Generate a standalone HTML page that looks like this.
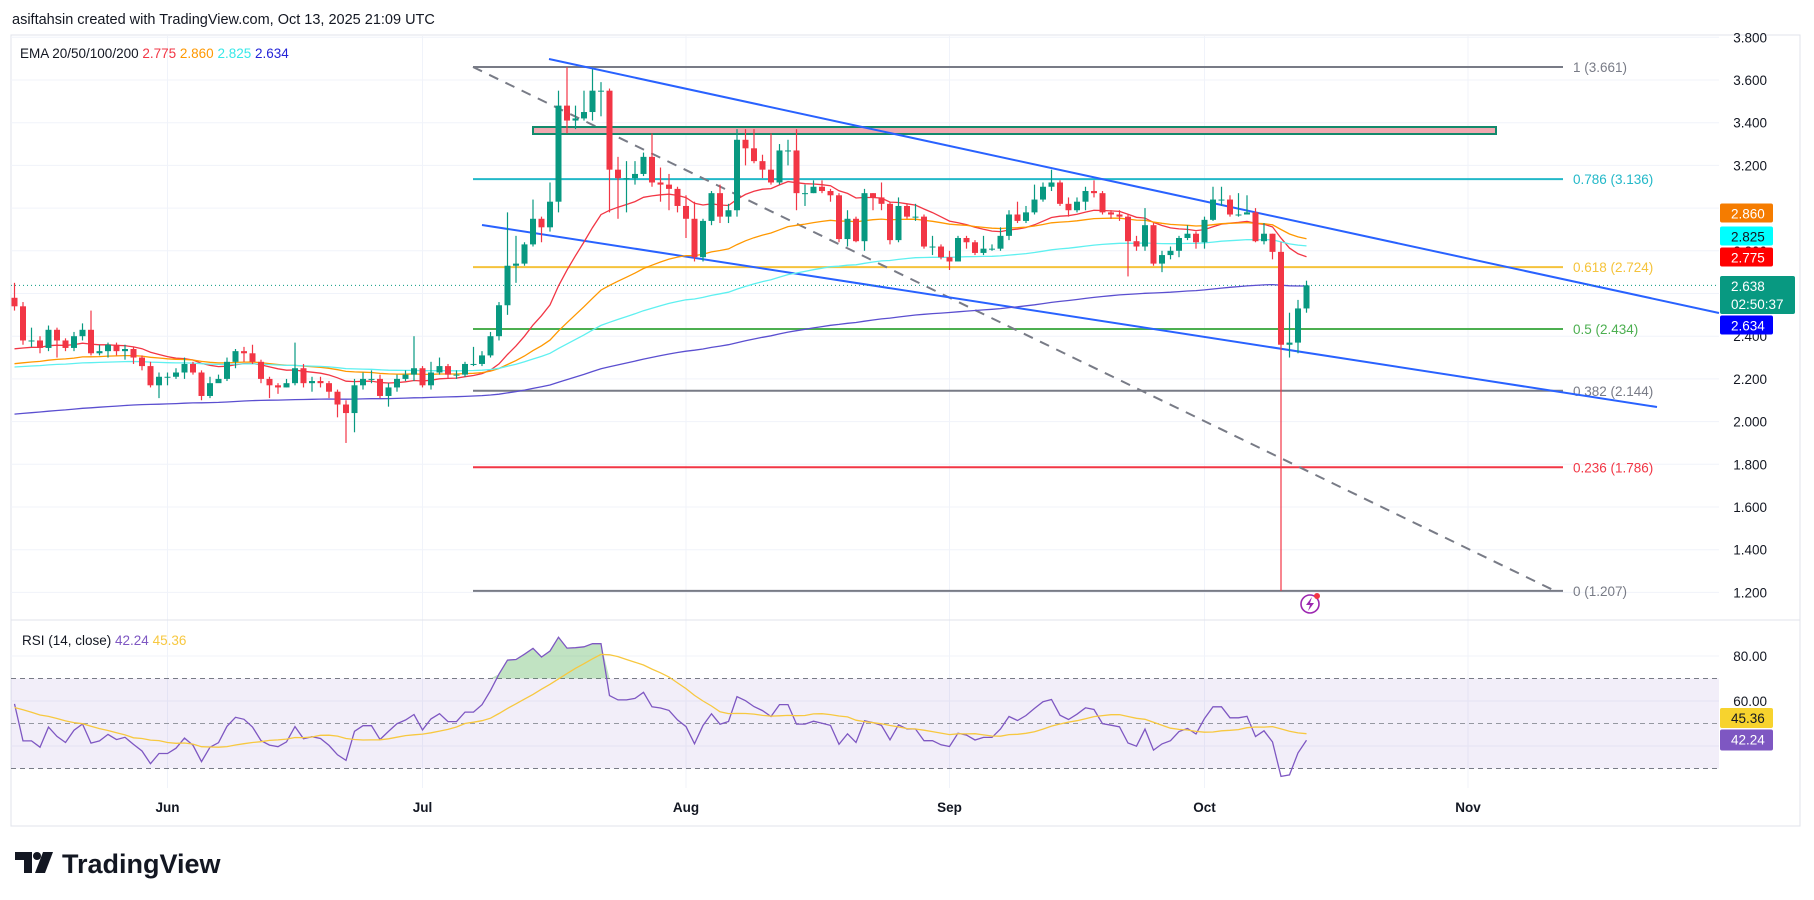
<!DOCTYPE html>
<html><head><meta charset="utf-8">
<style>
html,body{margin:0;padding:0;background:#fff;}
svg{display:block;font-family:"Liberation Sans",sans-serif;}
</style></head>
<body>
<svg id="chart" width="1814" height="900" viewBox="0 0 1814 900" xmlns="http://www.w3.org/2000/svg">
  <text x="12" y="24" font-size="14.5" fill="#131722">asiftahsin created with TradingView.com, Oct 13, 2025 21:09 UTC</text>
  <rect x="11" y="35" width="1789" height="791" fill="none" stroke="#e0e3eb"/>
  <g id="grid"></g>
  <g id="rsiPane"></g>
  <g id="drawings"></g>
  <g id="emaLines"></g>
  <g id="candles"></g>
  <g id="axes"></g>
  <line x1="11" y1="620" x2="1800" y2="620" stroke="#e0e3eb"/>
  <text x="20" y="58" font-size="13.5"><tspan fill="#131722">EMA 20/50/100/200 </tspan><tspan fill="#f23645">2.775 </tspan><tspan fill="#ff9800">2.860 </tspan><tspan fill="#38e8e8">2.825 </tspan><tspan fill="#2424d8">2.634</tspan></text>
  <text x="22" y="645" font-size="13.5"><tspan fill="#131722">RSI (14, close) </tspan><tspan fill="#7e57c2">42.24 </tspan><tspan fill="#f7c840">45.36</tspan></text>
  <g>
    <circle cx="1310" cy="604" r="9" fill="#fff" stroke="#9c27b0" stroke-width="1.6"/>
    <path d="M1312 597 L1306 605 L1310 605 L1308 611 L1314 603 L1310 603 Z" fill="#9c27b0"/>
    <circle cx="1317" cy="596" r="3" fill="#f23645"/>
  </g>
  <g>
    <path d="M15 852 H32 V873 H24 V860 H15 Z" fill="#131722"/>
    <circle cx="37" cy="856" r="4" fill="#131722"/>
    <path d="M43 852 H53 L45 873 H35 Z" fill="#131722"/>
    <text x="62" y="873" font-size="27" font-weight="bold" fill="#131722">TradingView</text>
  </g>
</svg>
<script>
// ---- data ----
const firstOpen = 2.58;
const closes = [2.54,2.38,2.38,2.345,2.43,2.38,2.345,2.40,2.43,2.32,2.33,2.36,2.33,2.34,2.30,2.26,2.17,2.21,2.21,2.23,
2.27,2.23,2.12,2.18,2.20,2.28,2.33,2.32,2.28,2.20,2.17,2.16,2.18,2.25,2.18,2.19,2.18,2.14,2.08,2.04,
2.17,2.20,2.20,2.12,2.16,2.20,2.22,2.25,2.17,2.23,2.26,2.22,2.22,2.27,2.27,2.31,2.40,2.545,2.73,2.74,
2.83,2.95,2.91,3.03,3.48,3.41,3.42,3.45,3.55,3.55,3.18,3.14,3.14,3.16,3.24,3.12,3.11,3.09,3.01,2.95,
2.77,2.94,3.07,2.96,2.99,3.32,3.28,3.22,3.18,3.12,3.27,3.27,3.07,3.07,3.10,3.08,3.06,2.855,2.95,2.845,
3.07,3.05,3.02,2.85,3.01,2.96,2.96,2.82,2.82,2.77,2.75,2.86,2.84,2.79,2.81,2.81,2.87,2.97,2.94,2.98,
3.04,3.10,3.12,3.02,2.99,3.03,3.08,3.07,2.98,2.97,2.96,2.845,2.82,2.92,2.74,2.78,2.80,2.86,2.88,2.84,
2.945,3.04,3.04,2.97,2.97,2.98,2.845,2.88,2.795,2.36,2.37,2.53,2.638];
const highs = [2.65,2.56,2.44,2.40,2.45,2.44,2.39,2.42,2.46,2.52,2.36,2.37,2.37,2.36,2.35,2.31,2.28,2.23,2.23,2.25,
2.30,2.28,2.24,2.21,2.22,2.30,2.34,2.35,2.36,2.29,2.21,2.18,2.20,2.37,2.27,2.21,2.21,2.19,2.15,2.10,
2.20,2.23,2.24,2.22,2.18,2.22,2.24,2.40,2.26,2.28,2.30,2.27,2.24,2.28,2.35,2.33,2.42,2.56,2.98,2.87,
2.84,3.04,2.96,3.12,3.55,3.66,3.48,3.55,3.65,3.59,3.56,3.24,3.22,3.22,3.26,3.35,3.19,3.16,3.10,3.06,
3.03,2.95,3.08,3.11,3.02,3.37,3.37,3.37,3.25,3.35,3.30,3.32,3.37,3.11,3.13,3.13,3.09,3.07,2.99,2.96,
3.09,3.07,3.12,3.03,3.05,3.02,3.02,2.97,2.87,2.83,2.80,2.87,2.87,2.85,2.87,2.83,2.91,2.99,3.03,3.01,
3.11,3.12,3.18,3.13,3.05,3.05,3.10,3.13,3.08,2.99,2.99,2.97,2.87,3.00,2.93,2.80,2.82,2.87,2.92,2.89,
2.96,3.10,3.10,3.06,3.07,3.06,3.00,2.93,2.88,2.84,2.51,2.57,2.66];
const lows = [2.52,2.36,2.35,2.32,2.33,2.30,2.33,2.33,2.38,2.31,2.31,2.30,2.31,2.29,2.27,2.24,2.16,2.11,2.17,2.20,
2.20,2.22,2.10,2.11,2.19,2.19,2.25,2.28,2.27,2.18,2.11,2.13,2.16,2.17,2.16,2.14,2.16,2.11,2.02,1.90,
1.95,2.15,2.18,2.11,2.07,2.14,2.19,2.19,2.16,2.15,2.22,2.20,2.20,2.21,2.26,2.26,2.30,2.38,2.50,2.65,
2.73,2.82,2.84,2.89,2.98,3.35,3.37,3.41,3.41,3.43,2.98,2.95,2.98,3.11,3.15,3.10,3.03,2.99,2.98,2.86,
2.75,2.75,2.92,2.93,2.93,2.96,3.20,3.21,3.14,3.11,3.11,3.20,2.99,3.01,3.07,3.07,3.03,2.84,2.82,2.84,
2.80,2.99,2.99,2.83,2.84,2.95,2.94,2.81,2.78,2.76,2.71,2.75,2.81,2.78,2.78,2.80,2.80,2.85,2.93,2.93,
2.97,3.03,3.08,3.01,2.96,2.98,2.99,3.05,2.97,2.95,2.94,2.68,2.80,2.80,2.73,2.70,2.76,2.77,2.85,2.81,
2.81,2.94,3.01,2.96,2.96,2.97,2.84,2.83,2.76,1.207,2.30,2.32,2.51];
const emaPeriods = [20, 50, 100, 200];
const emaSeeds = [2.32, 2.26, 2.25, 2.03];
const emaColors = ['#f23645','#ff9800','#5ff0f0','#5b4fd0'];
const fibLevels = [1, 0.786, 0.618, 0.5, 0.382, 0.236, 0];
const fibHigh = 3.661, fibLow = 1.207;
const fibColors = ['#787b86','#22b8c8','#f5c33b','#4caf50','#787b86','#f23645','#787b86'];
const priceTicks = ['3.800','3.600','3.400','3.200','3.000','2.800','2.600','2.400','2.200','2.000','1.800','1.600','1.400','1.200'];
const rsiTicks = ['80.00','60.00','40.00'];
const monthLabels = ['Jun','Jul','Aug','Sep','Oct','Nov'];
const monthIndex = [18, 48, 79, 110, 140, 171];
const rsiSeedGain = 0.02, rsiSeedLoss = 0.011, rsiMaSeed = 57;

// ---- scales ----
const NS='http://www.w3.org/2000/svg';
const X0=14.5, STEP=8.5, PLOT_R=1719;
function xs(i){return X0+i*STEP;}
function ys(p){return 80+(3.6-p)*213.5;}
function yr(v){return 656+(80-v)*2.25;}
function mk(tag,attrs,parent){const e=document.createElementNS(NS,tag);for(const k in attrs)e.setAttribute(k,attrs[k]);parent.appendChild(e);return e;}
const grid=document.getElementById('grid'), axes=document.getElementById('axes');
const rsiG=document.getElementById('rsiPane'), dr=document.getElementById('drawings');
const emaG=document.getElementById('emaLines'), cG=document.getElementById('candles');

// grid + axes
priceTicks.forEach(t=>{
  const y=ys(parseFloat(t));
  const l=mk('line',{x1:11,x2:PLOT_R,y1:y,y2:y,stroke:'#f0f3fa'},grid);
  
  
  const tx=mk('text',{x:1767,y:y+5,'font-size':13.5,'text-anchor':'end',fill:'#131722'},axes);
  tx.textContent=t;
  
  
});
rsiTicks.forEach(t=>{
  const y=yr(parseFloat(t));
  const l=mk('line',{x1:11,x2:PLOT_R,y1:y,y2:y,stroke:'#f0f3fa'},grid);
  
  
  if(t!=='40.00'){
    const tx=mk('text',{x:1767,y:y+5,'font-size':13.5,'text-anchor':'end',fill:'#131722'},axes);
    tx.textContent=t;
    
    
  }
});
monthLabels.forEach((m,k)=>{
  const x=xs(monthIndex[k]);
  const l=mk('line',{x1:x,x2:x,y1:36,y2:788,stroke:'#f0f3fa'},grid);
  
  
  const tx=mk('text',{x:x,y:812,'font-size':13.5,'text-anchor':'middle',fill:'#131722','font-weight':'bold'},axes);
  tx.textContent=m;
  
  
});

// opens
const opens=closes.map((c,i)=>i===0?firstOpen:closes[i-1]);

// fib
fibLevels.forEach((lv,k)=>{
  const p=fibLow+(fibHigh-fibLow)*lv;
  const y=ys(p);
  const l=mk('line',{x1:473,x2:1563,y1:y,y2:y,stroke:fibColors[k],'stroke-width':2},dr);
  
  
  const tx=mk('text',{x:1573,y:y+5,'font-size':13.5,fill:fibColors[k]},dr);
  tx.textContent=lv+' ('+p.toFixed(3)+')';
  
  
});
const fd=mk('line',{x1:473,y1:ys(fibHigh),x2:1555,y2:ys(fibLow),stroke:'#787b86','stroke-width':2,'stroke-dasharray':'10 8'},dr);


// resistance box
const rb=mk('rect',{x:533,y:127,width:963,height:7,fill:'#f0a8b0',stroke:'#128a6c','stroke-width':2},dr);


// channel
const ch1=mk('line',{x1:549,y1:59,x2:1719,y2:313,stroke:'#2962ff','stroke-width':2},dr);


const ch2=mk('line',{x1:482,y1:225,x2:1657,y2:407,stroke:'#2962ff','stroke-width':2},dr);


// current price line
const last=closes[closes.length-1];
const cp=mk('line',{x1:11,x2:PLOT_R,y1:ys(last),y2:ys(last),stroke:'#089981','stroke-dasharray':'1 3'},dr);



// EMAs
const emaFinal=[];
emaPeriods.forEach((n,k)=>{
  const a=2/(n+1);let e=emaSeeds[k];const pts=[];
  closes.forEach((c,i)=>{e=e+a*(c-e);pts.push(xs(i).toFixed(1)+','+ys(e).toFixed(1));});
  emaFinal.push(e);
  const pl=mk('polyline',{points:pts.join(' '),fill:'none',stroke:emaColors[k],'stroke-width':1.3},emaG);
  
  
});

// candles
closes.forEach((c,i)=>{
  const o=opens[i],up=c>=o,col=up?'#089981':'#f23645',x=xs(i);
  const g=mk('g',{},cG);
  
  
  mk('line',{x1:x,x2:x,y1:ys(highs[i]),y2:ys(lows[i]),stroke:col,'stroke-width':1.2},g);
  const t=ys(Math.max(o,c)),b=ys(Math.min(o,c));
  mk('rect',{x:x-3,y:t,width:6,height:Math.max(1,b-t),fill:col},g);
});

// RSI
const rsi=[];let ag=rsiSeedGain,al=rsiSeedLoss;
closes.forEach((c,i)=>{
  const d=c-opens[i];const gn=Math.max(d,0),ls=Math.max(-d,0);
  ag=(ag*13+gn)/14;al=(al*13+ls)/14;
  rsi.push(al===0?100:100-100/(1+ag/al));
});
const rsiMa=rsi.map((v,i)=>{let s=0,n=0;for(let j=i-13;j<=i;j++){s+=(j<0?rsiMaSeed:rsi[j]);n++;}return s/n;});
const band=mk('rect',{x:11,y:yr(70),width:PLOT_R-11,height:yr(30)-yr(70),fill:'rgba(126,87,194,0.1)'},rsiG);


[70,50,30].forEach(v=>{
  const l=mk('line',{x1:11,x2:PLOT_R,y1:yr(v),y2:yr(v),stroke:v===50?'#9598a1':'#787b86','stroke-dasharray':'5 4'},rsiG);
  
  
});
// overbought fill
let ob='';
rsi.forEach((v,i)=>{ob+=(i?' L':'M')+xs(i).toFixed(1)+' '+yr(Math.max(v,70)).toFixed(1);});
ob+=' L'+xs(rsi.length-1)+' '+yr(70)+' L'+xs(0)+' '+yr(70)+' Z';
const obp=mk('path',{d:ob,fill:'rgba(76,175,80,0.35)'},rsiG);


const rl=mk('polyline',{points:rsi.map((v,i)=>xs(i).toFixed(1)+','+yr(v).toFixed(1)).join(' '),fill:'none',stroke:'#7e57c2','stroke-width':1.3},rsiG);


const rm=mk('polyline',{points:rsiMa.map((v,i)=>xs(i).toFixed(1)+','+yr(v).toFixed(1)).join(' '),fill:'none',stroke:'#f7c840','stroke-width':1.3},rsiG);



// price tags
function tag(y,h,bg,fg,lines,name,w){
  const g=mk('g',{},axes);
  
  
  mk('rect',{x:1720,y:y-h/2,width:w||53,height:h,fill:bg,rx:2},g);
  lines.forEach((s,k)=>{const t=mk('text',{x:1731,y:y-h/2+15+k*18,'font-size':13.5,fill:fg},g);t.textContent=s;});
}
tag(213,19,'#f57c00','#fff',['2.860'],'ema50-price-tag');
tag(236,19,'#00ffff','#131722',['2.825'],'ema100-price-tag');
tag(257,19,'#ff0000','#fff',['2.775'],'ema20-price-tag');
tag(295,38,'#089981','#fff',[last.toFixed(3),'02:50:37'],'last-price-tag',75);
tag(325,19,'#0000ff','#fff',['2.634'],'ema200-price-tag');
tag(718,20,'#f7d32e','#131722',['45.36'],'rsi-ma-tag');
tag(740,21,'#7e57c2','#fff',['42.24'],'rsi-value-tag');
</script>
</body></html>
